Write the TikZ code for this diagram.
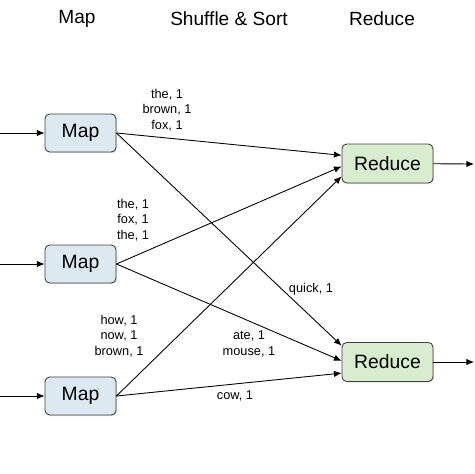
\documentclass[tikz,border=0pt]{standalone}
\usepackage{fontspec}
\setmainfont{Liberation Sans}
\usetikzlibrary{arrows.meta,shadows}
\definecolor{mapblue}{HTML}{DCE9F1}
\definecolor{redgreen}{HTML}{D8ECCF}
\begin{document}
\begin{tikzpicture}[x=0.03cm,y=-0.03cm,>={Latex[length=6.5pt,width=5.5pt]},line width=0.75pt,
  mapbox/.style={draw=black!75,fill=mapblue,rounded corners=4pt,minimum width=2.13cm,minimum height=1.14cm,
    font=\fontsize{16.5}{19}\selectfont,drop shadow={opacity=0.25,shadow xshift=1pt,shadow yshift=-1pt}},
  redbox/.style={mapbox,fill=redgreen,minimum width=2.73cm,minimum height=1.17cm},
  head/.style={font=\fontsize{16.3}{19}\selectfont},
  pairs/.style={align=center,inner sep=0pt,font=\fontsize{10.9}{13.2}\selectfont}]
\useasboundingbox (0,0) rectangle (474,474);
\node[head] (hmap) at (77,19) {Map};
\node[head] (hshuf) at (229,19) {Shuffle \& Sort};
\node[head] (hred) at (382,19) {Reduce};
\node[mapbox] (m1) at (80.5,133) {Map};
\node[mapbox] (m2) at (80.5,264) {Map};
\node[mapbox] (m3) at (80.5,396) {Map};
\node[redbox] (r1) at (387.5,163.5) {Reduce};
\node[redbox] (r2) at (387.5,362) {Reduce};
\coordinate (in1) at (0,133);
\coordinate (in2) at (0,264);
\coordinate (in3) at (0,396);
\coordinate (out1) at (474,164);
\coordinate (out2) at (474,362);
\draw[->] (in1) -- (m1); \draw[->] (in2) -- (m2); \draw[->] (in3) -- (m3);
\draw[->] (r1) -- (out1); \draw[->] (r2) -- (out2);
\draw[->] (m1.east) -- ([yshift=7pt]r1.west);
\draw[->] (m2.east) -- ([yshift=-2.5pt]r1.west);
\draw[->] (m3.east) -- ([yshift=-11pt]r1.west);
\draw[->] (m1.east) -- ([yshift=14pt]r2.west);
\draw[->] (m2.east) -- ([yshift=1pt]r2.west);
\draw[->] (m3.east) -- ([yshift=-9.5pt]r2.west);
\node[pairs] (p1) at (167,110) {the, 1\\brown, 1\\fox, 1};
\node[pairs] (p2) at (133,220) {the, 1\\fox, 1\\the, 1};
\node[pairs] (p3) at (311,289) {quick, 1};
\node[pairs] (p4) at (119,336) {how, 1\\now, 1\\brown, 1};
\node[pairs] (p5) at (249,344) {ate, 1\\mouse, 1};
\node[pairs] (p6) at (235,396) {cow, 1};
\end{tikzpicture}
\end{document}
